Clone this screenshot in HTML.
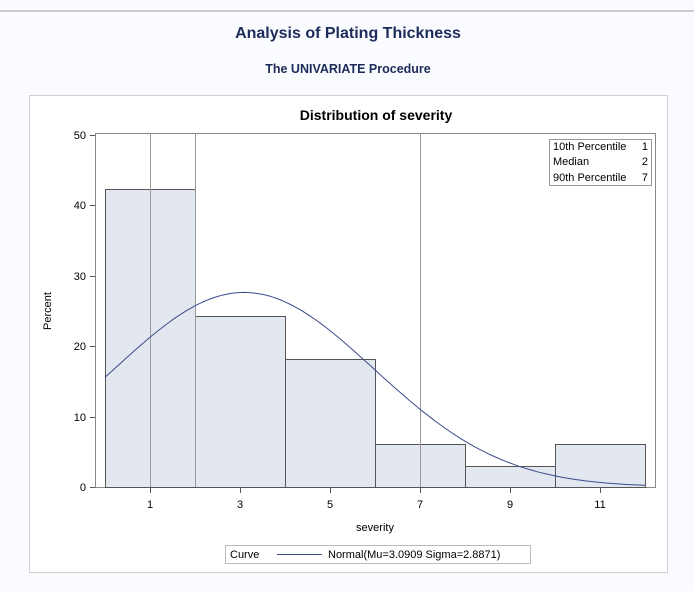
<!DOCTYPE html>
<html><head><style>
body{margin:0;background:#fafbfe;width:694px;height:586px;overflow:hidden;font-family:"Liberation Sans",sans-serif;}
</style></head><body>
<svg width="694" height="586" xmlns="http://www.w3.org/2000/svg" font-family="Liberation Sans, sans-serif">
<rect width="694" height="586" fill="#fafbfe"/>
<line x1="0" y1="11" x2="694" y2="11" stroke="#a0a0a8" stroke-width="1"/>
<text x="348" y="38" text-anchor="middle" font-size="16" font-weight="bold" fill="#1c2b5a">Analysis of Plating Thickness</text>
<text x="348" y="73" text-anchor="middle" font-size="12.5" font-weight="bold" fill="#1c2b5a">The UNIVARIATE Procedure</text>
<rect x="29.5" y="95.5" width="638" height="477" fill="#fff" stroke="#d0d0d4"/>
<text x="376" y="120" text-anchor="middle" font-size="14" font-weight="bold" fill="#000">Distribution of severity</text>
<rect x="95.5" y="133.5" width="560" height="354" fill="#fff" stroke="#888"/>
<g fill="#e3e7ef" stroke="#555" stroke-width="1">
<rect x="105.5" y="189.5" width="90" height="298"/>
<rect x="195.5" y="316.5" width="90" height="171"/>
<rect x="285.5" y="359.5" width="90" height="128"/>
<rect x="375.5" y="444.5" width="90" height="43"/>
<rect x="465.5" y="466.5" width="90" height="21"/>
<rect x="555.5" y="444.5" width="90" height="43"/>
</g>
<g stroke="#999" stroke-width="1">
<line x1="150.5" y1="134" x2="150.5" y2="487"/>
<line x1="195.5" y1="134" x2="195.5" y2="487"/>
<line x1="420.5" y1="134" x2="420.5" y2="487"/>
</g>
<path id="curve" fill="none" stroke="#3b4c8c" stroke-width="1"/>
<g stroke="#555"><line x1="90" y1="487.5" x2="95" y2="487.5"/><line x1="90" y1="417.5" x2="95" y2="417.5"/><line x1="90" y1="346.5" x2="95" y2="346.5"/><line x1="90" y1="276.5" x2="95" y2="276.5"/><line x1="90" y1="205.5" x2="95" y2="205.5"/><line x1="90" y1="135.5" x2="95" y2="135.5"/>
<line x1="150.5" y1="488" x2="150.5" y2="493"/><line x1="240.5" y1="488" x2="240.5" y2="493"/><line x1="330.5" y1="488" x2="330.5" y2="493"/><line x1="420.5" y1="488" x2="420.5" y2="493"/><line x1="510.5" y1="488" x2="510.5" y2="493"/><line x1="600.5" y1="488" x2="600.5" y2="493"/></g>
<g font-size="11" fill="#000" text-anchor="end">
<text x="86" y="491">0</text><text x="86" y="421">10</text><text x="86" y="350">20</text><text x="86" y="280">30</text><text x="86" y="209">40</text><text x="86" y="139">50</text></g>
<g font-size="11" fill="#000" text-anchor="middle">
<text x="150" y="508">1</text><text x="240" y="508">3</text><text x="330" y="508">5</text><text x="420" y="508">7</text><text x="510" y="508">9</text><text x="600" y="508">11</text>
<text x="375" y="531">severity</text></g>
<text transform="translate(51,311) rotate(-90)" font-size="11" text-anchor="middle">Percent</text>
<rect x="549.5" y="139.5" width="102" height="46" fill="#fff" stroke="#999"/>
<g font-size="11"><text x="553" y="150">10th Percentile</text><text x="648" y="150" text-anchor="end">1</text>
<text x="553" y="165">Median</text><text x="648" y="165" text-anchor="end">2</text>
<text x="553" y="181">90th Percentile</text><text x="648" y="181" text-anchor="end">7</text></g>
<rect x="225.5" y="545.5" width="305" height="18" fill="#fff" stroke="#bbb"/>
<text x="230" y="558" font-size="11">Curve</text>
<line x1="277" y1="554.5" x2="322" y2="554.5" stroke="#3b4c8c"/>
<text x="328" y="558" font-size="11">Normal(Mu=3.0909 Sigma=2.8871)</text>
</svg>
<script>
var mu=3.0909,s=2.8871,d="";
for(var i=0;i<=120;i++){var x=i/10;var p=200/(s*Math.sqrt(2*Math.PI))*Math.exp(-0.5*Math.pow((x-mu)/s,2));
d+=(i?"L":"M")+(105+45*x).toFixed(1)+","+(487-7.04*p).toFixed(1);}
document.getElementById("curve").setAttribute("d",d);
</script>
</body></html>
